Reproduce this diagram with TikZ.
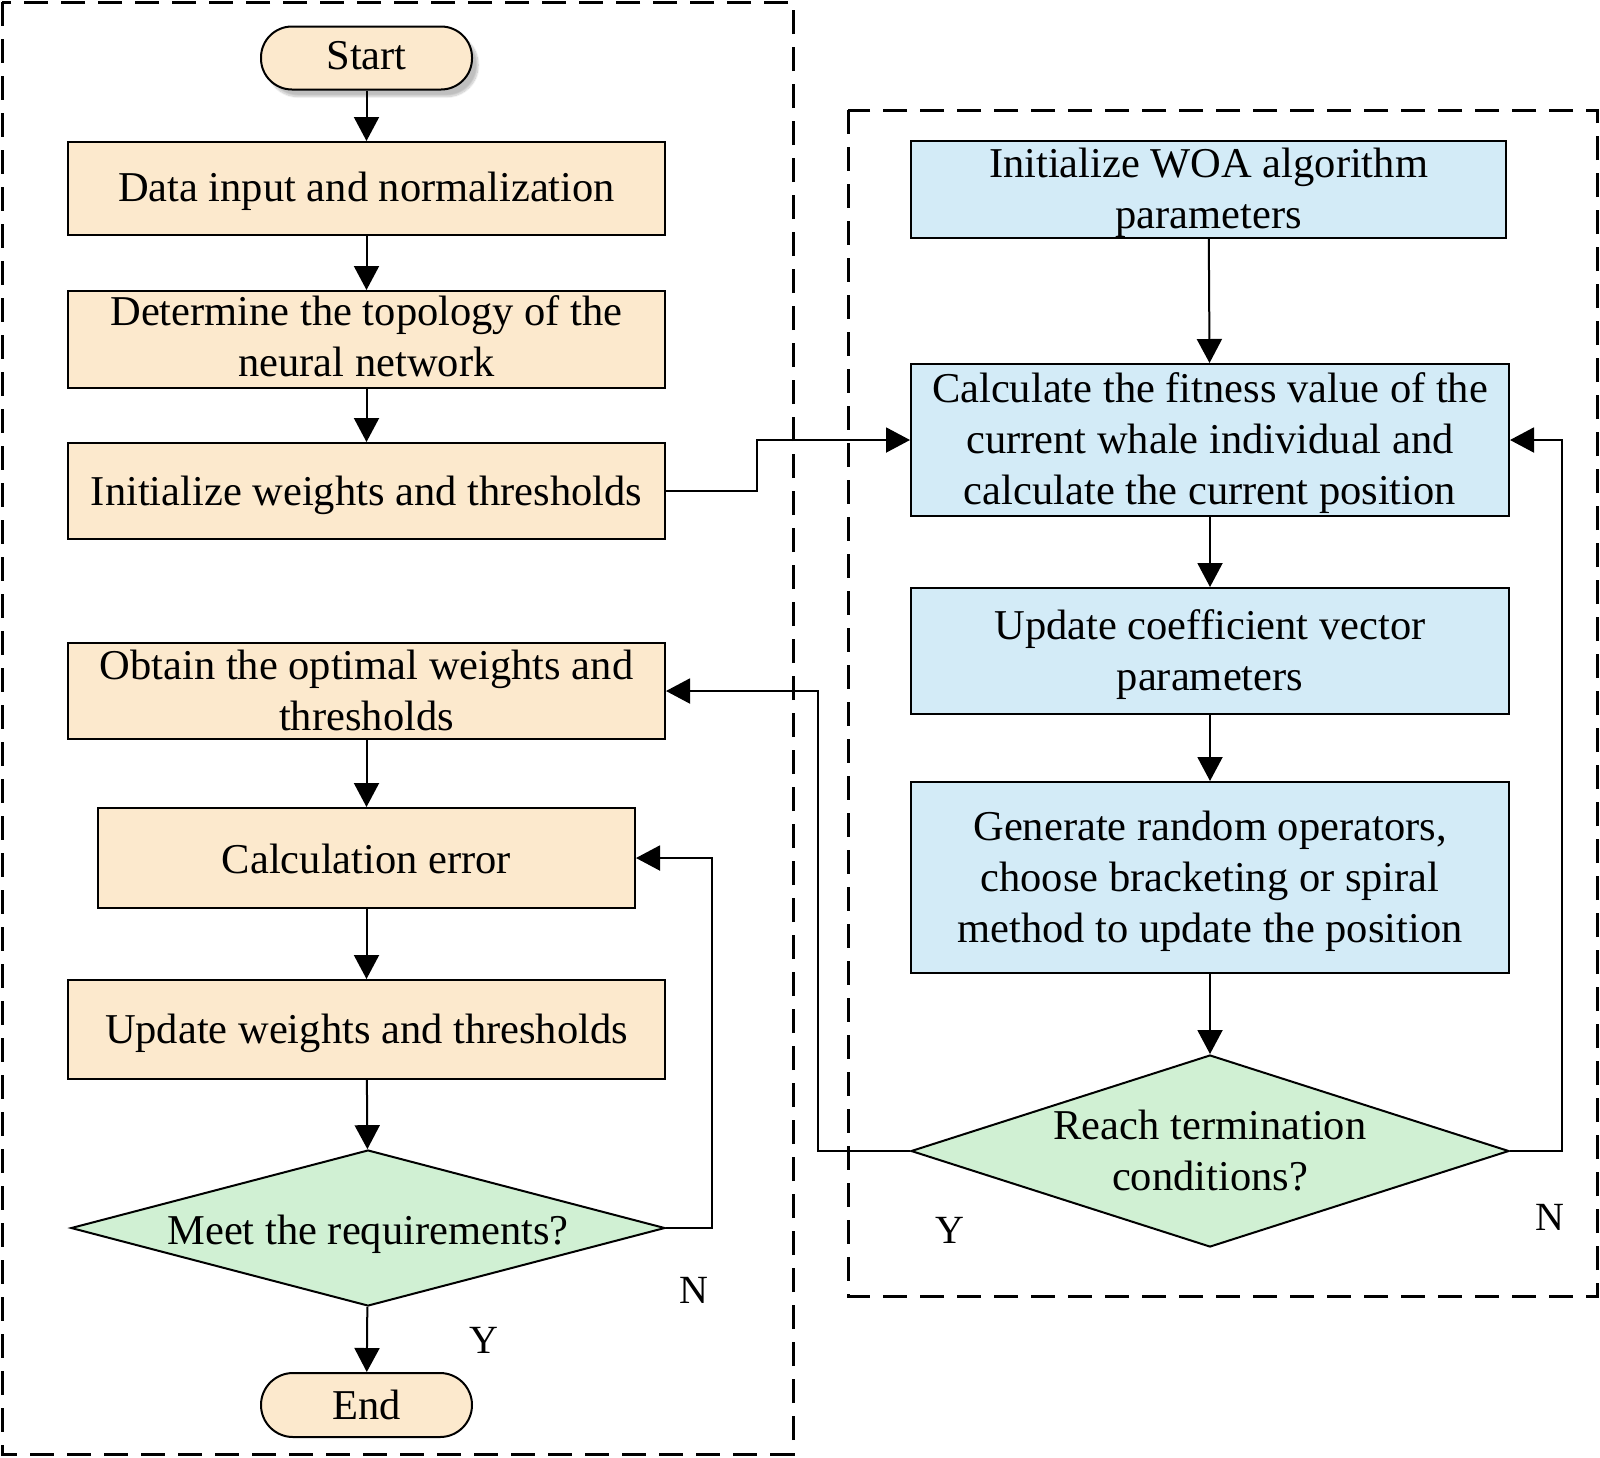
\documentclass[tikz,border=0pt]{standalone}
\usepackage{fontspec}
\setmainfont{Liberation Serif}
\usetikzlibrary{arrows.meta,shapes.geometric,shadows.blur}
\definecolor{orng}{RGB}{252,233,205}
\definecolor{blu}{RGB}{211,235,247}
\definecolor{grn}{RGB}{208,240,211}
\newcommand{\tl}[2]{\raisebox{\dimexpr#1+(\depth-\height)/2\relax}[0pt][0pt]{\begin{tabular}{@{}c@{}}#2\end{tabular}}}
\begin{document}
\begin{tikzpicture}[x=1pt,y=-1pt,
  every node/.style={font=\fontsize{42.5}{51}\selectfont},
  obox/.style={draw,line width=2pt,fill=orng,inner sep=0pt,minimum width=597pt},
  bbox/.style={draw,line width=2pt,fill=blu,inner sep=0pt,minimum width=597pt},
  term/.style={draw,line width=2pt,fill=orng,rounded corners=31pt,minimum width=211pt,minimum height=63pt,inner sep=0pt},
  dia/.style={draw,line width=2pt,fill=grn,diamond,inner sep=0pt},
  arr/.style={line width=2pt,-{Triangle[length=24pt,width=25pt]}},
  frame/.style={line width=3pt,dash pattern=on 24pt off 13pt},
  lbl/.style={font=\fontsize{40}{48}\selectfont,inner sep=0pt}]
\useasboundingbox (0,0) rectangle (1600,1457);
% frames
\draw[frame] (2,2) rectangle (793,1454);
\draw[frame] (848,110) rectangle (1597,1296);
% left column
\node[term,blur shadow={shadow xshift=6pt,shadow yshift=-7pt,shadow blur steps=14,shadow blur extra rounding=4pt,shadow opacity=25}] (start) at (366.5,58) {\tl{-1pt}{Start}};
\node[obox,minimum height=93pt] (data) at (366.5,188.5) {\tl{-3pt}{Data input and normalization}};
\node[obox,minimum height=97pt] (topo) at (366.5,339.5) {\tl{-1pt}{Determine the topology of the\\neural network}};
\node[obox,minimum height=96pt] (initw) at (366.5,491) {\tl{-4pt}{Initialize weights and thresholds}};
\node[obox,minimum height=96pt] (obtain) at (366.5,691) {\tl{-4pt}{Obtain the optimal weights and\\thresholds}};
\node[obox,minimum width=537pt,minimum height=100pt] (calc) at (366.5,858) {\tl{-5pt}{Calculation error}};
\node[obox,minimum height=99pt] (upd) at (366.5,1029.5) {\tl{-4pt}{Update weights and thresholds}};
\node[dia,minimum width=594pt,minimum height=156pt] (meet) at (368,1228) {};
\node (meettxt) at ([yshift=-6pt]meet.center) {Meet the requirements?};
\node[term,minimum height=64pt,rounded corners=32pt] (end) at (366.5,1405) {End};
% right column
\node[bbox,minimum width=595pt,minimum height=97pt] (woa) at (1208.5,189.5) {\tl{-3pt}{Initialize WOA algorithm\\parameters}};
\node[bbox,minimum width=598pt,minimum height=152pt] (fit) at (1210,440) {\tl{-3pt}{Calculate the fitness value of the\\current whale individual and\\calculate the current position}};
\node[bbox,minimum width=598pt,minimum height=126pt] (coef) at (1210,651) {\tl{-4pt}{Update coefficient vector\\parameters}};
\node[bbox,minimum width=598pt,minimum height=191pt] (gen) at (1210,877.5) {\tl{-4pt}{Generate random operators,\\choose bracketing or spiral\\method to update the position}};
\node[dia,minimum width=598pt,minimum height=192pt] (reach) at (1210,1151) {};
\node (reachtxt) at (reach.center) {\tl{-4pt}{Reach termination\\conditions?}};
% arrows left
\draw[arr] (start) -- (data);
\draw[arr] (data) -- (topo);
\draw[arr] (topo) -- (initw);
\draw[arr] (obtain) -- (calc);
\draw[arr] (calc) -- (upd);
\draw[arr] (upd) -- (meet);
\draw[arr] (meet) -- (end);
\draw[arr] (meet.east) -- ++(46,0) |- (calc.east);
% arrows right
\draw[arr] (woa) -- (fit);
\draw[arr] (fit) -- (coef);
\draw[arr] (coef) -- (gen);
\draw[arr] (gen) -- (reach);
\draw[arr] (reach.east) -- ++(52,0) |- (fit.east);
\draw[arr] (reach.west) -- ++(-92,0) |- (obtain.east);
\draw[arr] (initw.east) -- ++(91,0) |- (fit.west);
% labels
\node[lbl] (n1) at (694,1290) {N};
\node[lbl] (y1) at (484,1340) {Y};
\node[lbl] (y2) at (950,1230) {Y};
\node[lbl] (n2) at (1550,1217) {N};
\end{tikzpicture}
\end{document}
